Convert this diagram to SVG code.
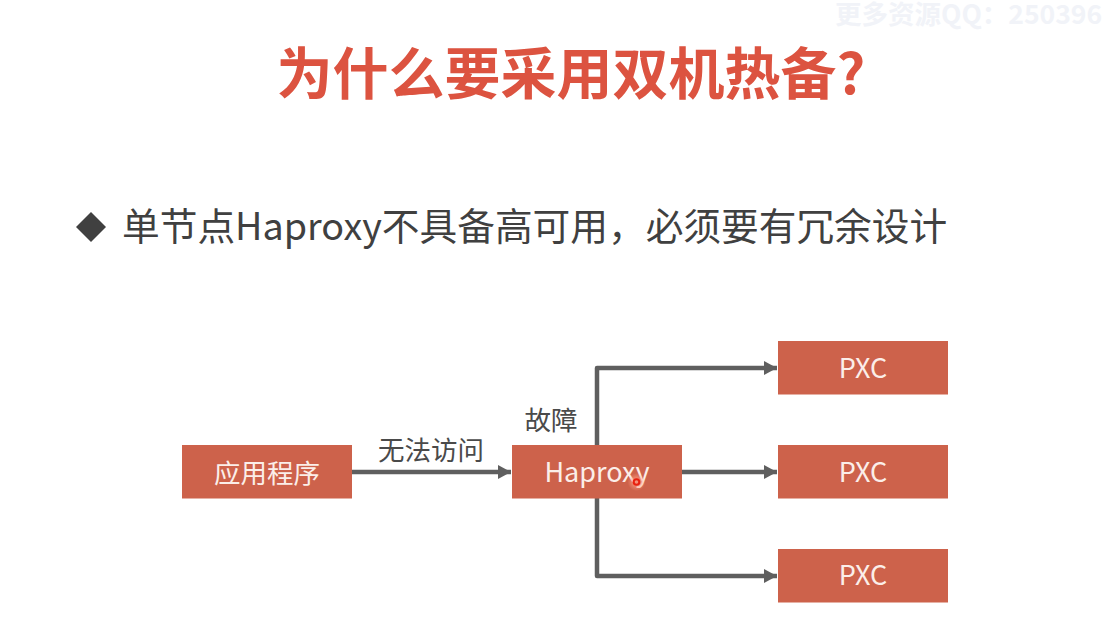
<svg xmlns="http://www.w3.org/2000/svg" width="1109" height="630" viewBox="0 0 1109 630">
<style>
text{font-family:"Noto Sans CJK SC","Noto Sans","Open Sans",sans-serif}
.n{fill:#cd624b}
.t{fill:#fbeee9;font-size:27px;text-anchor:middle}
.t2{fill:#fbeee9;font-size:26.500px;text-anchor:middle}
.c{fill:none;stroke:#5f5f5f;stroke-width:4.5;stroke-linejoin:round}
.l{fill:#4a4a4a;font-size:26.500px;text-anchor:middle}
</style>
<defs>
<marker id="a" markerUnits="userSpaceOnUse" markerWidth="14" markerHeight="16" refX="13" refY="8" orient="auto"><path d="M0 1L13 8L0 15z" fill="#5f5f5f"/></marker>
<radialGradient id="g"><stop offset="0.3" stop-color="#ff9a80" stop-opacity="0.8"/><stop offset="1" stop-color="#ff9a80" stop-opacity="0"/></radialGradient>
</defs>
<rect width="1109" height="630" fill="#fff"/>
<text x="835" y="24" font-size="26.500" font-weight="700" fill="#f1f3f8">更多资源QQ：250396</text>
<text x="571" y="94" font-size="56" font-weight="700" fill="#dc5340" text-anchor="middle">为什么要采用双机热备?</text>
<path d="M91 212L106 227L91 242L76 227z" fill="#404040"/>
<text x="122" y="240" font-size="37.700" fill="#404040">单节点Haproxy不具备高可用，必须要有冗余设计</text>
<g id="connectors">
<path class="c" d="M352 472H511" marker-end="url(#a)"/>
<path class="c" d="M597 445V368H777" marker-end="url(#a)"/>
<path class="c" d="M682 472H777" marker-end="url(#a)"/>
<path class="c" d="M597 498V576H777" marker-end="url(#a)"/>
</g>
<text class="l" x="431" y="460">无法访问</text>
<text class="l" x="551" y="430">故障</text>
<g id="app"><rect class="n" x="182" y="445" width="170" height="53.500"/><text class="t2" x="267" y="483">应用程序</text></g>
<g id="haproxy"><rect class="n" x="512" y="445" width="170" height="53.500"/><text class="t" x="597" y="482">Haproxy</text></g>
<g id="pxc1"><rect class="n" x="778" y="341" width="170" height="53.500"/><text class="t" x="863" y="378">PXC</text></g>
<g id="pxc2"><rect class="n" x="778" y="445" width="170" height="53.500"/><text class="t" x="863" y="482">PXC</text></g>
<g id="pxc3"><rect class="n" x="778" y="549" width="170" height="53.500"/><text class="t" x="863" y="585">PXC</text></g>
<circle cx="636.500" cy="482" r="9" fill="url(#g)"/>
<circle cx="636.500" cy="482" r="2.800" fill="none" stroke="#e8200f" stroke-width="2"/>
</svg>
